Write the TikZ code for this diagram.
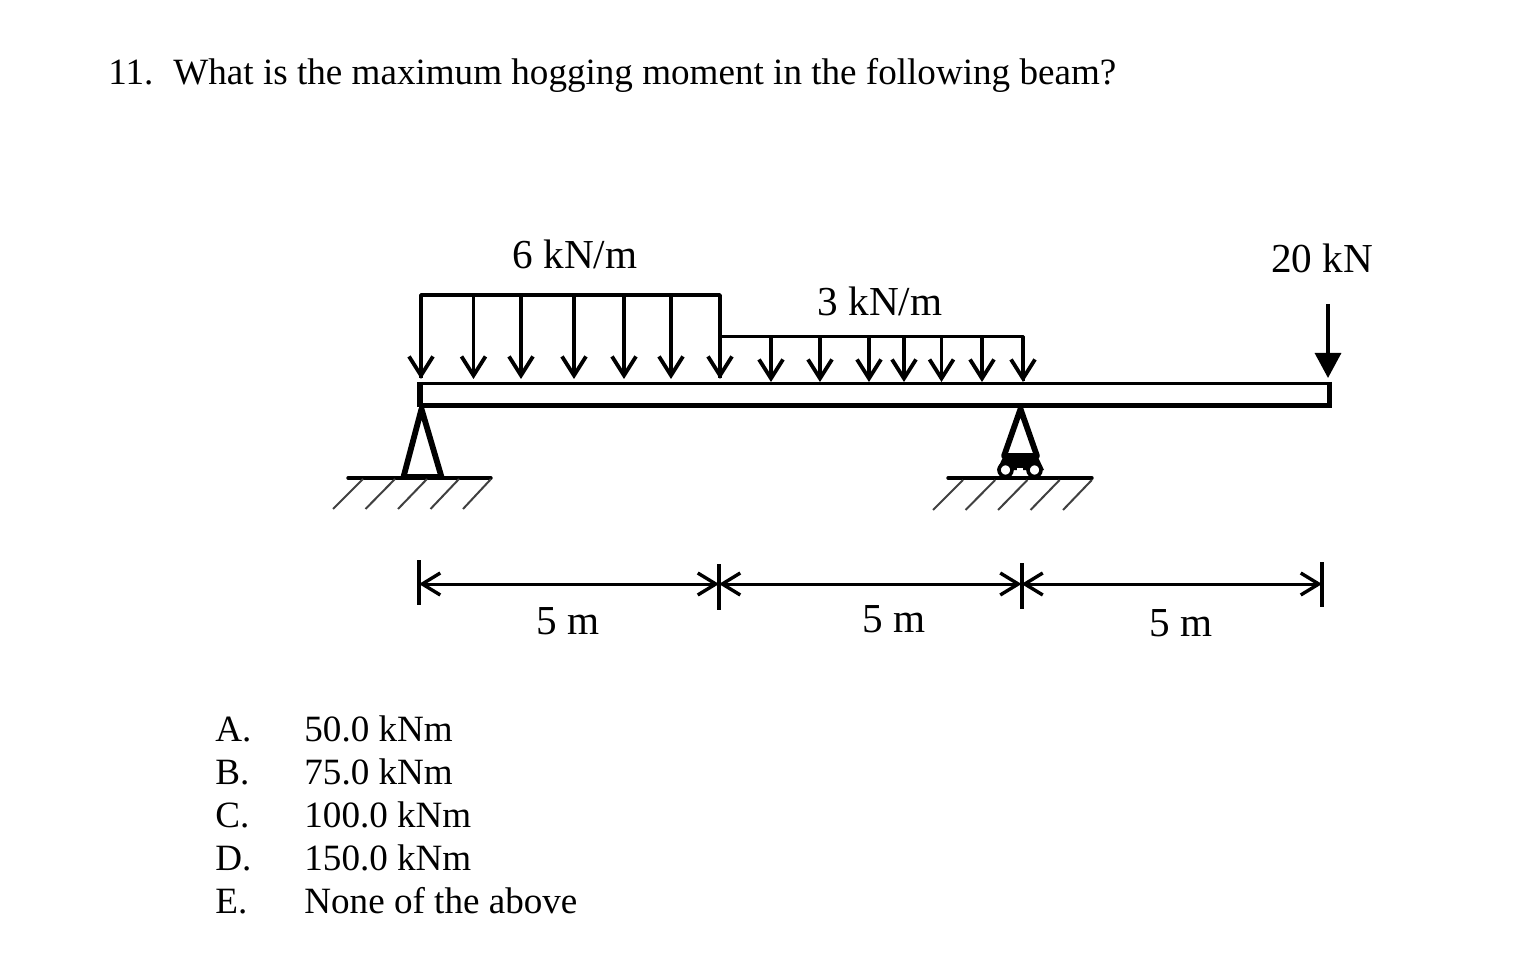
\documentclass[tikz,border=0pt]{standalone}
\usepackage{fontspec}
\setmainfont{Liberation Serif}
\usetikzlibrary{arrows.meta}
\tikzset{
  txt/.style={inner sep=0pt,anchor=base west,font=\fontsize{18.55}{22}\selectfont},
  lbl/.style={inner sep=0pt,anchor=base,font=\fontsize{20.6}{24}\selectfont},
  udl/.style={line width=1.7pt,-{Straight Barb[length=9.5pt,width=12pt,line width=1.9pt]}},
  dim/.style={line width=1.5pt,{Straight Barb[length=9pt,width=11pt,line width=1.7pt]}-{Straight Barb[length=9pt,width=11pt,line width=1.7pt]}},
  tick/.style={line width=2pt},
  supp/.style={line width=2.9pt,line join=round},
  ground/.style={line width=1.7pt,line cap=round},
  hatch/.style={line width=1pt,black!75}
}
\begin{document}
\begin{tikzpicture}[x=0.5pt,y=-0.5pt]
\useasboundingbox (0,0) rectangle (1536,978);

\node[txt] (num) at (108,85) {11.};
\node[txt] (question) at (173,85) {What is the maximum hogging moment in the following beam?};

% loads
\draw[line width=1.7pt,line join=round] (421,378) -- (421,295) -- (720,295) -- (720,378);
\draw[line width=1.5pt,line join=round] (720,337) -- (1023,337) -- (1023,381);
\foreach \x [count=\i] in {421,473.5,521,574,624,671,720} {
  \coordinate (p\i) at (\x,295);
  \coordinate (q\i) at (\x,379);
  \draw[udl] (p\i) -- (q\i);
}
\foreach \x [count=\i] in {771,820,869,904,941.5,982,1023} {
  \coordinate (r\i) at (\x,337);
  \coordinate (s\i) at (\x,382);
  \draw[udl] (r\i) -- (s\i);
}
\coordinate (ptop) at (1328,304);
\coordinate (ptip) at (1328,378);
\draw[line width=1.6pt,-{Triangle[length=12.5pt,width=13pt]}] (ptop) -- (ptip);

% beam
\draw[line width=1.8pt] (419,383.5) -- (1332,383.5);
\draw[line width=2.4pt] (419,405.5) -- (1332,405.5);
\draw[line width=2.6pt] (420,382) -- (420,407);
\draw[line width=2.6pt] (1329.5,382) -- (1329.5,407);

% supports
\draw[supp] (421.5,409) -- (403.5,477) -- (441.5,477) -- cycle;
\draw[ground] (348,478) -- (491,478);
\foreach \x in {0,1,2,3,4}
  \draw[hatch] ({363+32*\x},479) -- ({333+32.5*\x},509);

\draw[supp] (1020.5,409) -- (1004,456) -- (1037,456) -- cycle;
\fill (1004,455) -- (997,470) -- (1044,470) -- (1037,455) -- cycle;
\draw[line width=1.8pt,fill=white] (1005.5,470) circle [radius=6.5];
\draw[line width=1.8pt,fill=white] (1034.5,470) circle [radius=6.5];
\fill[white] (1017,468) rectangle (1023,476);
\draw[ground] (948,478) -- (1092,478);
\foreach \x in {0,1,2,3,4}
  \draw[hatch] ({963+32.2*\x},480) -- ({933+32.5*\x},510);

% dimensions
\draw[tick] (419,560) -- (419,605);
\draw[tick] (719,564) -- (719,610);
\draw[tick] (1021.5,563) -- (1021.5,609);
\draw[tick] (1322,562) -- (1322,607);
\draw[dim] (419,584) -- (719,584);
\draw[dim] (719,584) -- (1021.5,584);
\draw[dim] (1021.5,584) -- (1322,584);

% labels
\node[lbl] (qa) at (575,269) {6 kN/m};
\node[lbl] (qb) at (880,316) {3 kN/m};
\node[lbl] (pl) at (1322,273) {20 kN};
\node[lbl] (la) at (568,634) {5 m};
\node[lbl] (lb) at (894,632) {5 m};
\node[lbl] (lc) at (1181,636) {5 m};

\foreach \y/\k/\t in {741.5/A/50.0 kNm,784.5/B/75.0 kNm,827.5/C/100.0 kNm,870.5/D/150.0 kNm,913.5/E/None of the above} {
  \node[txt] (opt\k) at (215,\y) {\k.};
  \node[txt] (ans\k) at (304,\y) {\t};
}
\end{tikzpicture}
\end{document}
